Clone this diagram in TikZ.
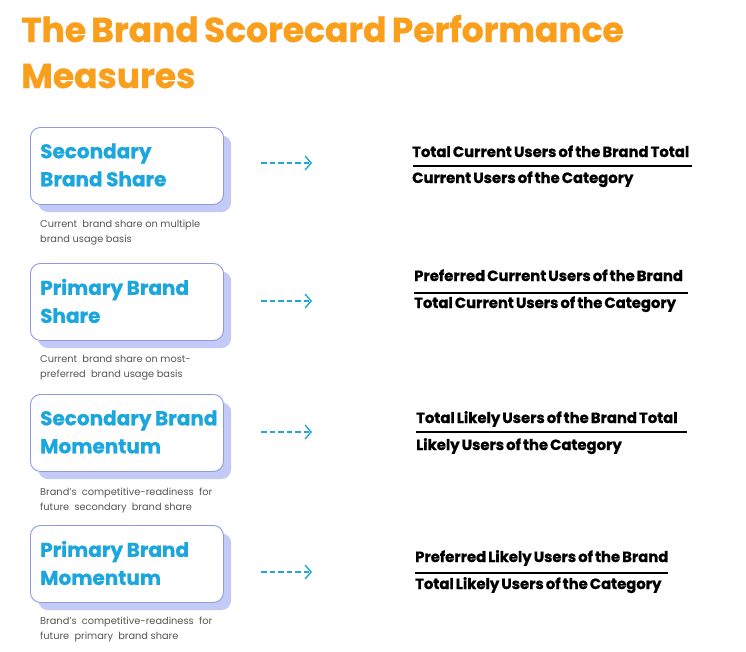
\documentclass[tikz,border=0pt]{standalone}
\usepackage{fontspec}
\setmainfont{Poppins}[BoldFeatures={FakeBold=0.9}]
\usetikzlibrary{arrows.meta,calc}
\definecolor{ttl}{HTML}{F99F1C}
\definecolor{bxt}{HTML}{1BA6DE}
\definecolor{bxd}{HTML}{8C9AE8}
\definecolor{shd}{HTML}{C4CAF6}
\definecolor{arr}{HTML}{22A4DC}
\definecolor{dsc}{HTML}{555555}
\newcommand\titlefnt{\fontsize{34.5}{44}\selectfont\bfseries\spaceskip 0.15em\relax}
\newcommand\cardfnt{\fontsize{20}{28}\selectfont\bfseries\spaceskip 0.18em\relax}
\newcommand\fracfnt{\fontsize{14.8}{16}\selectfont\bfseries\spaceskip 0.14em\relax}
\newcommand\descfnt{\fontsize{9.8}{15}\selectfont}
\tikzset{
  x=1pt,y=1pt,
  cardbox/.style={draw=bxd, line width=0.9pt, fill=white, rounded corners=10pt, minimum width=193pt, minimum height=77pt, anchor=north west, inner sep=0pt},
  cardshadow/.style={fill=shd, rounded corners=10pt, minimum width=193pt, minimum height=77pt, anchor=north west, inner sep=0pt},
  cardtext/.style={anchor=west, align=left, inner sep=0pt, text=bxt, font=\cardfnt},
  desctext/.style={anchor=north west, align=left, inner sep=0pt, text=dsc, font=\descfnt},
  fractext/.style={anchor=base west, inner sep=0pt, font=\fracfnt},
  fracline/.style={line width=1.6pt},
  dasharrow/.style={draw=arr, line width=1.3pt, dash pattern=on 5.5pt off 3pt, -{Straight Barb[length=6pt, width=14pt, line width=1.4pt]}},
  titletext/.style={anchor=base west, inner sep=0pt, text=ttl, font=\titlefnt}
}
\begin{document}
\begin{tikzpicture}
\useasboundingbox (0,0) rectangle (746,-651);
\node[titletext] (t1) at (21,-42) {The Brand Scorecard Performance};
\node[titletext] (t2) at (21,-88) {Measures};

% card 1
\node[cardshadow] (s1) at (38,-135) {};
\node[cardbox] (b1) at (30,-127) {};
\node[cardtext] (c1) at ($(b1.west)+(10,1)$) {Secondary\\Brand Share};
\node[desctext] (d1) at (40,-220) {Current\ \ brand share on multiple\\brand usage basis};
% card 2
\node[cardshadow] (s2) at (38,-271) {};
\node[cardbox] (b2) at (30,-263) {};
\node[cardtext] (c2) at ($(b2.west)+(10,1)$) {Primary Brand\\Share};
\node[desctext] (d2) at (40,-355) {Current\ \ brand share on most-\\preferred\ \ brand usage basis};
% card 3
\node[cardshadow] (s3) at (38,-402) {};
\node[cardbox] (b3) at (30,-394) {};
\node[cardtext] (c3) at ($(b3.west)+(10,1)$) {Secondary Brand\\Momentum};
\node[desctext] (d3) at (40,-488) {Brand's\ \ competitive-readiness\ \ for\\future\ \ secondary\ \ brand share};
% card 4
\node[cardshadow] (s4) at (38,-533) {};
\node[cardbox] (b4) at (30,-525) {};
\node[cardtext] (c4) at ($(b4.west)+(10,1)$) {Primary Brand\\Momentum};
\node[desctext] (d4) at (40,-617) {Brand's\ \ competitive-readiness\ \ for\\future\ \ primary\ \ brand share};

% arrows
\coordinate (a1s) at (261,-163); \coordinate (a1e) at (312,-163);
\coordinate (a2s) at (261,-301); \coordinate (a2e) at (312,-301);
\coordinate (a3s) at (261,-432); \coordinate (a3e) at (312,-432);
\coordinate (a4s) at (261,-572); \coordinate (a4e) at (312,-572);
\draw[dasharrow] (a1s) -- (a1e);
\draw[dasharrow] (a2s) -- (a2e);
\draw[dasharrow] (a3s) -- (a3e);
\draw[dasharrow] (a4s) -- (a4e);

% fractions
\node[fractext] (n1) at (412,-157) {Total Current Users of the Brand Total};
\coordinate (l1a) at (413,-166); \coordinate (l1b) at (692,-166);
\draw[fracline] (l1a) -- (l1b);
\node[fractext] (m1) at (412,-183) {Current Users of the Category};

\node[fractext] (n2) at (414,-281) {Preferred Current Users of the Brand};
\coordinate (l2a) at (414,-293); \coordinate (l2b) at (688,-293);
\draw[fracline] (l2a) -- (l2b);
\node[fractext] (m2) at (414,-308) {Total Current Users of the Category};

\node[fractext] (n3) at (416,-423) {Total Likely Users of the Brand Total};
\coordinate (l3a) at (416,-432); \coordinate (l3b) at (687,-432);
\draw[fracline] (l3a) -- (l3b);
\node[fractext] (m3) at (416,-450) {Likely Users of the Category};

\node[fractext] (n4) at (415,-562) {Preferred Likely Users of the Brand};
\coordinate (l4a) at (415,-573); \coordinate (l4b) at (668,-573);
\draw[fracline] (l4a) -- (l4b);
\node[fractext] (m4) at (415,-589) {Total Likely Users of the Category};
\end{tikzpicture}
\end{document}
